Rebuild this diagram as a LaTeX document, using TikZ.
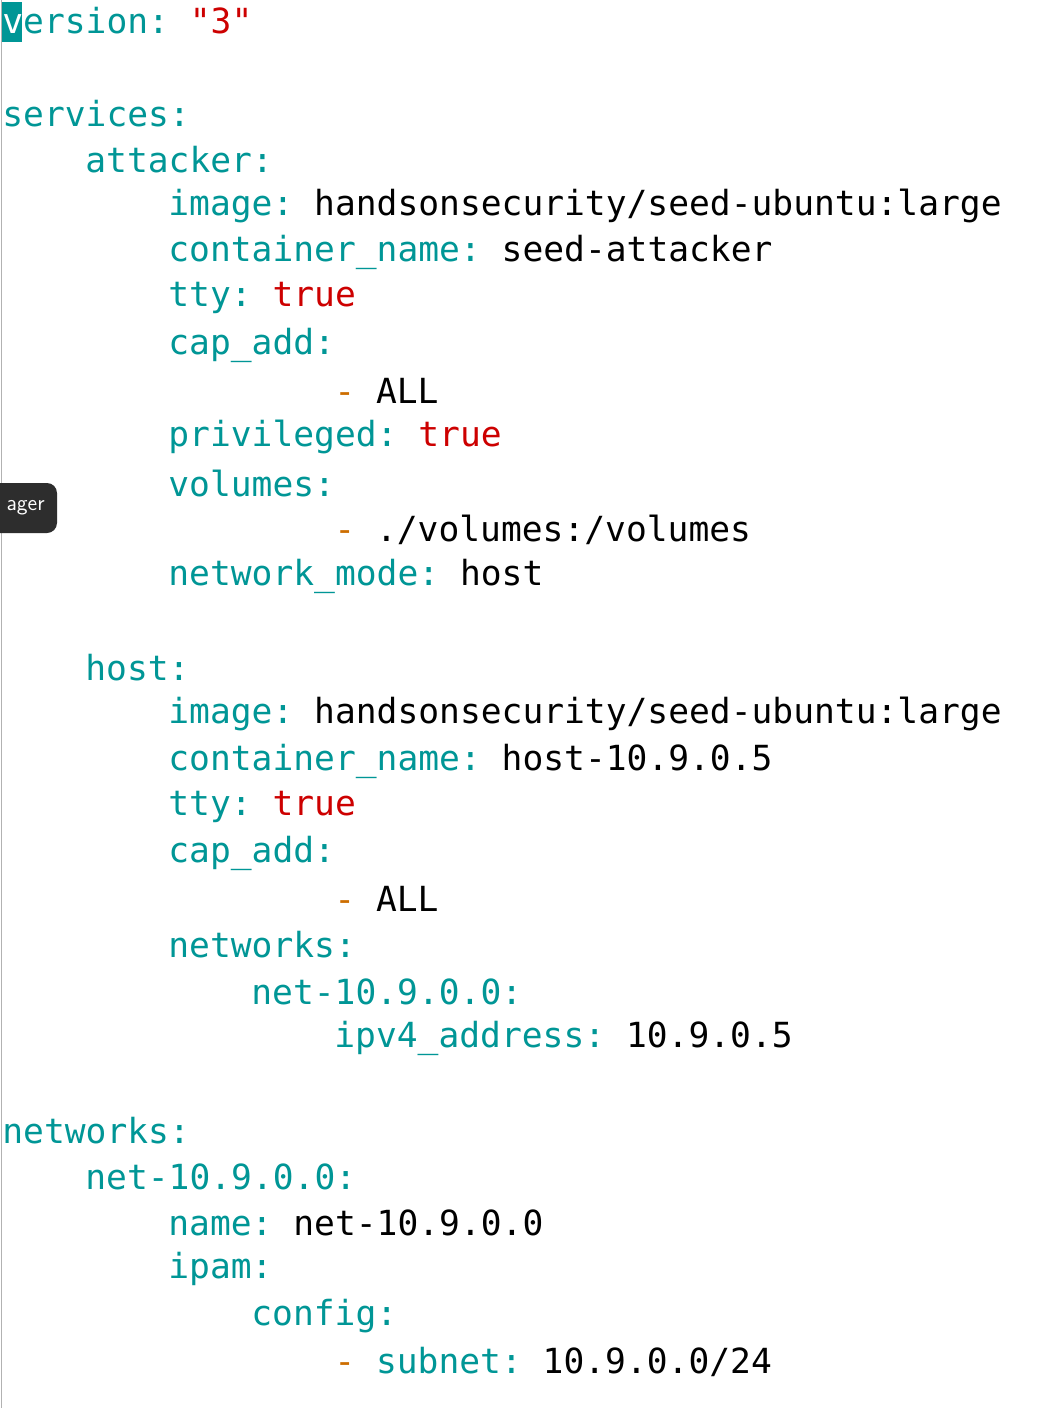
\documentclass[tikz,border=0pt]{standalone}
\usepackage{fontspec}
\setmonofont{DejaVu Sans Mono}
\definecolor{kc}{RGB}{0,150,150}
\definecolor{rc}{RGB}{205,0,0}
\definecolor{dc}{RGB}{205,110,0}
\definecolor{tip}{RGB}{45,45,45}
\newcommand{\K}[1]{\textcolor{kc}{#1}}
\newcommand{\R}[1]{\textcolor{rc}{#1}}
\newcommand{\D}{\textcolor{dc}{-}}
\tikzset{ln/.style={anchor=west,inner sep=0pt,font=\ttfamily\fontsize{17.3pt}{20pt}\selectfont,text=black}}
\newcommand{\Ln}[4]{\node[ln] (#1) at ({2+83*#3},#2) {#4};}
\begin{document}
\begin{tikzpicture}[x=0.5pt,y=-0.5pt]
\useasboundingbox (0,0) rectangle (1044,1408);
\fill[white] (0,0) rectangle (1044,1408);
\draw[gray!60,line width=0.5pt] (1,0) -- (1,1408);
\fill[kc] (2,2) rectangle (22,42);
\Ln{l1}{21}{0}{\textcolor{white}{v}\K{ersion:} \R{"3"}}
\Ln{l2}{114}{0}{\K{services:}}
\Ln{l3}{160}{1}{\K{attacker:}}
\Ln{l4}{206}{2}{\K{image:} handsonsecurity/seed-ubuntu:large}
\Ln{l5}{252}{2}{\K{container\_name:} seed-attacker}
\Ln{l6}{298}{2}{\K{tty:} \R{true}}
\Ln{l7}{345}{2}{\K{cap\_add:}}
\Ln{l8}{391}{4}{\D{} ALL}
\Ln{l9}{437}{2}{\K{privileged:} \R{true}}
\Ln{l10}{484}{2}{\K{volumes:}}
\Ln{l11}{530}{4}{\D{} ./volumes:/volumes}
\Ln{l12}{576}{2}{\K{network\_mode:} host}
\Ln{l13}{668}{1}{\K{host:}}
\Ln{l14}{714}{2}{\K{image:} handsonsecurity/seed-ubuntu:large}
\Ln{l15}{761}{2}{\K{container\_name:} host-10.9.0.5}
\Ln{l16}{807}{2}{\K{tty:} \R{true}}
\Ln{l17}{853}{2}{\K{cap\_add:}}
\Ln{l18}{899}{4}{\D{} ALL}
\Ln{l19}{945}{2}{\K{networks:}}
\Ln{l20}{992}{3}{\K{net-10.9.0.0:}}
\Ln{l21}{1038}{4}{\K{ipv4\_address:} 10.9.0.5}
\Ln{l22}{1131}{0}{\K{networks:}}
\Ln{l23}{1177}{1}{\K{net-10.9.0.0:}}
\Ln{l24}{1223}{2}{\K{name:} net-10.9.0.0}
\Ln{l25}{1269}{2}{\K{ipam:}}
\Ln{l26}{1316}{3}{\K{config:}}
\Ln{l27}{1362}{4}{\D{} \K{subnet:} 10.9.0.0/24}
\fill[tip,rounded corners=5pt] (-20,483) rectangle (57,533);
\node[anchor=east,inner sep=0pt,text=white,font=\sffamily\fontsize{11pt}{13pt}\selectfont] (tipt) at (45,508) {ager};
\end{tikzpicture}
\end{document}
